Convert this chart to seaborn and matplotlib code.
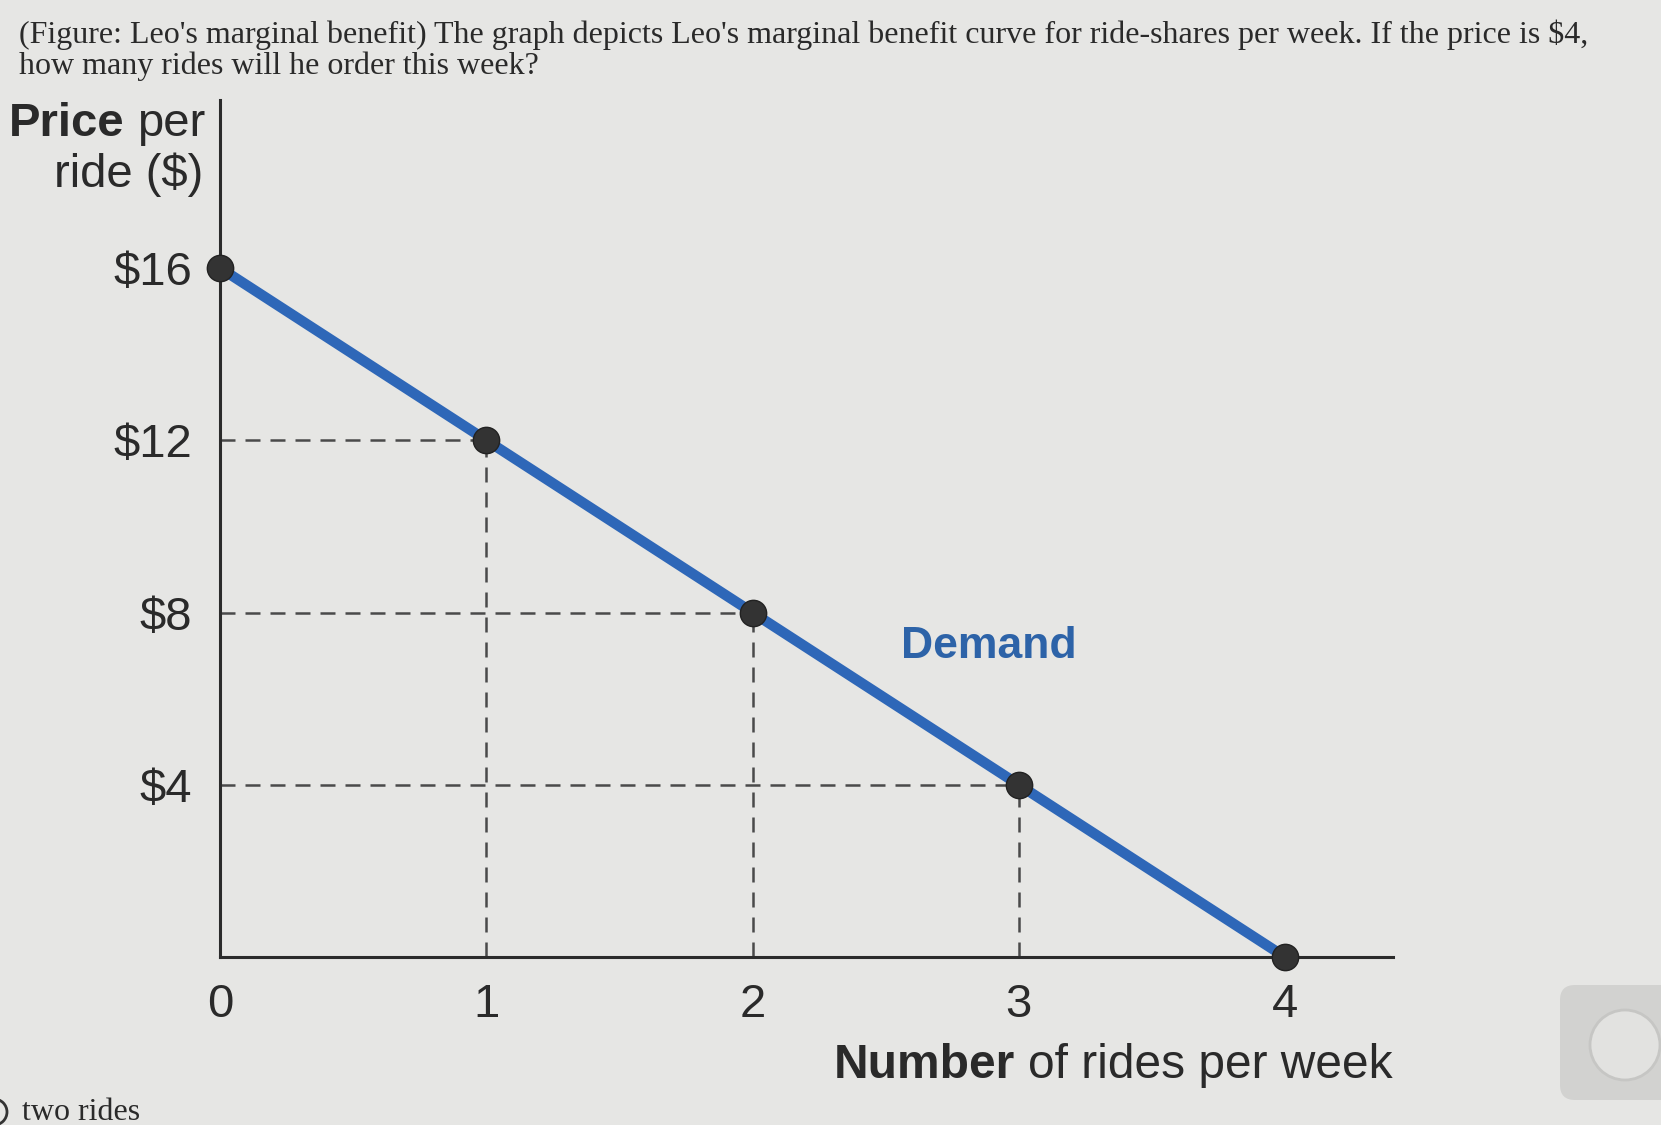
import matplotlib
matplotlib.use("Agg")
import matplotlib.pyplot as plt
from matplotlib.patches import Circle, FancyBboxPatch
import pandas as pd
import seaborn as sns

sns.set_theme(style="white")
plt.rcParams['font.family'] = ['Liberation Sans', 'DejaVu Sans']

# data
rides = [0, 1, 2, 3, 4]
price = [16, 12, 8, 4, 0]
y_ticks = [4, 8, 12, 16]
y_labels = ["$4", "$8", "$12", "$16"]
x_ticks = [0, 1, 2, 3, 4]
x_labels = ["0", "1", "2", "3", "4"]
question = ("(Figure: Leo's marginal benefit) The graph depicts Leo's marginal benefit curve for ride-shares per week. If the price is $4,\n"
            "how many rides will he order this week?")

df = pd.DataFrame({"rides": rides, "price": price})

bg = "#e6e6e4"
blue = "#2e67b8"
dark = "#2b2b2b"
serif = ["Liberation Serif", "DejaVu Serif"]

fig = plt.figure(figsize=(16.61, 11.25), dpi=100, facecolor=bg)
ax = fig.add_axes([0.1325, 0.1493, 0.8387 - 0.1325, 0.9111 - 0.1493])
ax.set_facecolor("none")

# dashed guides from each interior point to the axes
for r, p in zip(rides[1:-1], price[1:-1]):
    ax.plot([0, r], [p, p], color="#4a4a4a", lw=1.8, ls=(0, (6, 4)), zorder=1)
    ax.plot([r, r], [0, p], color="#4a4a4a", lw=1.8, ls=(0, (6, 4)), zorder=1)

sns.lineplot(data=df, x="rides", y="price", color=blue, lw=7.5, ax=ax, zorder=3)
sns.scatterplot(data=df, x="rides", y="price", color="#333333", s=360,
                edgecolor="#222222", linewidth=1, ax=ax, zorder=4, clip_on=False)

ax.set_xlim(0, 4.406)
ax.set_ylim(0, 19.9)
for s in ["top", "right"]:
    ax.spines[s].set_visible(False)
for s in ["left", "bottom"]:
    ax.spines[s].set_color(dark)
    ax.spines[s].set_linewidth(2.2)

ax.set_yticks(y_ticks)
ax.set_yticklabels(y_labels)
ax.set_xticks(x_ticks)
ax.set_xticklabels(x_labels)
ax.tick_params(axis="y", direction="out", length=12, width=1.6, color=dark,
               labelsize=34, pad=8, labelcolor="#2a2a2a")
ax.tick_params(axis="x", direction="inout", length=10, width=1.6, color=dark,
               labelsize=34, pad=14, labelcolor="#2a2a2a")
ax.set_xlabel("")
ax.set_ylabel("")

ax.text(2.888, 7.21, "Demand", color="#2d63a8", fontsize=32, fontweight="bold",
        ha="center", va="center")

# axis titles with a bold first word
t_per = fig.text(205 / 1661, 1 - 124 / 1125, "per", fontsize=34, ha="right",
                 va="center", color="#2a2a2a")
ax.annotate("Price", xy=(0, 0), xycoords=t_per, xytext=(-9, 0),
            textcoords="offset points", ha="right", va="bottom", fontsize=34,
            fontweight="bold", color="#2a2a2a", annotation_clip=False)
fig.text(203 / 1661, 1 - 175 / 1125, "ride ($)", fontsize=34, ha="right",
         va="center", color="#2a2a2a")

t_num = fig.text(834 / 1661, 1 - 1065 / 1125, "Number", fontsize=34.5,
                 fontweight="bold", ha="left", va="center", color="#2a2a2a")
ax.annotate("of rides per week", xy=(1, 0), xycoords=t_num, xytext=(9, 0),
            textcoords="offset points", ha="left", va="bottom", fontsize=34.5,
            color="#2a2a2a", annotation_clip=False)

# question text
fig.text(19 / 1661, 1 - 20 / 1125, question, fontsize=23, ha="left", va="top",
         family=serif, color="#2a2a2a", linespacing=1.05)

# answer option at the bottom left
fig.text(22 / 1661, 1 - 1112 / 1125, "two rides", fontsize=23, ha="left",
         va="center", family=serif, color="#2a2a2a")
fig.add_artist(Circle((-0.06, 0.13), 0.13, transform=fig.dpi_scale_trans,
                      fill=False, edgecolor="#333333", lw=2))

# button at the bottom right
fig.add_artist(FancyBboxPatch((15.6, 0.25), 1.3, 1.15, boxstyle="round,pad=0,rounding_size=0.15",
                              transform=fig.dpi_scale_trans, facecolor="#d2d2d0",
                              edgecolor="none"))
fig.add_artist(Circle((16.25, 0.8), 0.35, transform=fig.dpi_scale_trans,
                      facecolor="#e2e2e0", edgecolor="#c6c6c4", lw=2))

fig.savefig("out.png", dpi=100, facecolor=bg)
